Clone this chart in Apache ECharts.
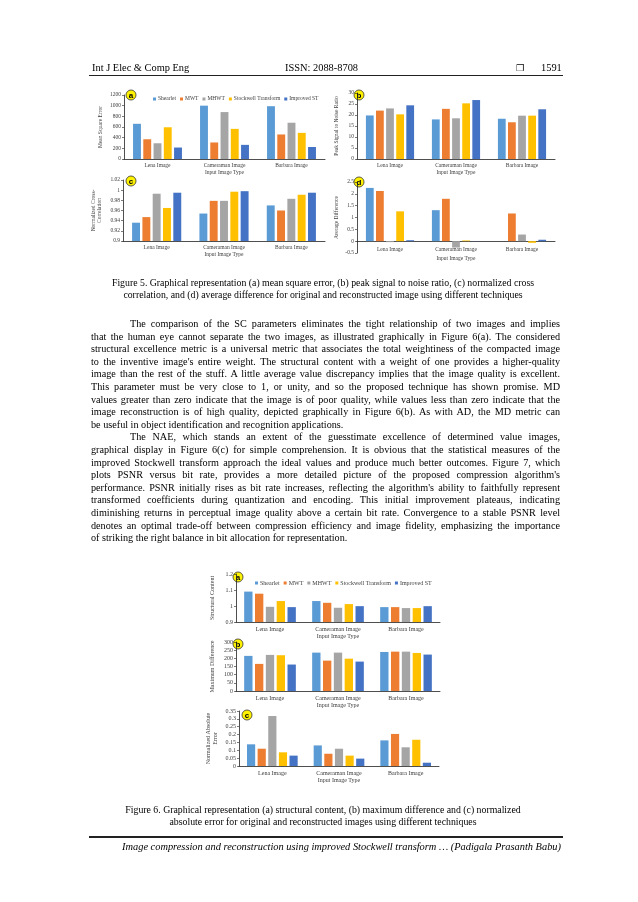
<!DOCTYPE html>
<html lang="en">
<head>
<meta charset="utf-8">
<title>Figure 5 and Figure 6</title>
<script src="https://cdn.jsdelivr.net/npm/echarts@6/dist/echarts.min.js"></script>
<style>
body{margin:0;background:#fff;}
#page{position:relative;width:638px;height:902px;overflow:hidden;font-family:'Liberation Serif','Times New Roman',serif;color:#000;}
#chart{position:absolute;left:0;top:0;width:638px;height:902px;}
.t{position:absolute;white-space:nowrap;line-height:12px;font-size:10.4px;}
.cap{position:absolute;left:60px;width:526px;text-align:center;white-space:nowrap;line-height:12px;font-size:9.8px;}
.jl{position:absolute;white-space:nowrap;line-height:12px;font-size:10.2px;}
.rule{position:absolute;left:89px;width:474px;background:#222;}
</style>
</head>
<body>
<div id="page">
  <div id="chart"></div>

  <div class="t" style="left:92px;top:62px;">Int J Elec &amp; Comp Eng</div>
  <div class="t" style="left:285px;top:62px;">ISSN: 2088-8708</div>
  <div class="t" style="left:516px;top:62px;font-family:'DejaVu Sans';font-size:9px;">&#10066;</div>
  <div class="t" style="left:541px;top:62px;">1591</div>
  <div class="rule" style="top:75px;height:1px;"></div>

  <div class="cap" style="top:277px;">Figure 5. Graphical representation (a) mean square error, (b) peak signal to noise ratio, (c) normalized cross</div>
  <div class="cap" style="top:289px;">correlation, and (d) average difference for original and reconstructed image using different techniques</div>

  <div id="body"></div>

  <div class="cap" style="top:804px;">Figure 6. Graphical representation (a) structural content, (b) maximum difference and (c) normalized</div>
  <div class="cap" style="top:816px;">absolute error for original and reconstructed images using different techniques</div>

  <div class="rule" style="top:836px;height:2px;"></div>
  <div class="t" style="right:77px;top:841px;font-style:italic;">Image compression and reconstruction using improved Stockwell transform &#8230; (Padigala Prasanth Babu)</div>
</div>

<script>
// categories and series
var categories = ['Lena Image', 'Cameraman Image', 'Barbara Image'];
var methods = ['Shearlet', 'MWT', 'MHWT', 'Stockwell Transform', 'Improved ST'];
var colors = ['#5B9BD5', '#ED7D31', '#A5A5A5', '#FFC000', '#4472C4'];

// one row per method, one value per image
var mse = [[660, 1000, 990], [370, 310, 460], [295, 880, 680], [595, 565, 490], [215, 265, 225]];
var psnr = [[19.8, 18.0, 18.3], [22.0, 22.8, 16.7], [23.0, 18.5, 19.7], [20.3, 25.3, 19.7], [24.4, 26.8, 22.6]];
var ncc = [[0.936, 0.954, 0.970], [0.947, 0.979, 0.960], [0.993, 0.979, 0.983], [0.965, 0.997, 0.991], [0.995, 0.998, 0.995]];
var ad = [[2.25, 1.31, 0], [2.12, 1.79, 1.17], [-0.04, -0.27, 0.28], [1.26, 0.03, -0.07], [0.04, 0.005, 0.06]];
var sc = [[1.090, 1.031, 0.993], [1.077, 1.020, 0.993], [0.995, 0.989, 0.987], [1.031, 1.012, 0.987], [0.993, 0.999, 0.999]];
var md = [[215, 235, 239], [166, 186, 241], [221, 235, 241], [219, 198, 233], [162, 180, 223]];
var nae = [[0.138, 0.131, 0.163], [0.110, 0.078, 0.204], [0.318, 0.110, 0.119], [0.087, 0.066, 0.167], [0.066, 0.047, 0.021]];

// tick labels
var mseTicks = [0, 200, 400, 600, 800, 1000, 1200];
var psnrTicks = [0, 5, 10, 15, 20, 25, 30];
var nccTicks = [0.9, 0.92, 0.94, 0.96, 0.98, 1, 1.02];
var adTicks = [-0.5, 0, 0.5, 1, 1.5, 2, 2.5];
var scTicks = [0.9, 1, 1.1, 1.2];
var mdTicks = [0, 50, 100, 150, 200, 250, 300];
var naeTicks = [0, 0.05, 0.1, 0.15, 0.2, 0.25, 0.3, 0.35];

var para1 = [
  'The comparison of the SC parameters eliminates the tight relationship of two images and implies',
  'that the human eye cannot separate the two images, as illustrated graphically in Figure 6(a). The considered',
  'structural excellence metric is a universal metric that associates the total weightiness of the compacted image',
  'to the inventive image\'s entire weight. The structural content with a weight of one provides a higher-quality',
  'image than the rest of the stuff. A little average value discrepancy implies that the image quality is excellent.',
  'This parameter must be very close to 1, or unity, and so the proposed technique has shown promise. MD',
  'values greater than zero indicate that the image is of poor quality, while values less than zero indicate that the',
  'image reconstruction is of high quality, depicted graphically in Figure 6(b). As with AD, the MD metric can',
  'be useful in object identification and recognition applications.'
];
var para2 = [
  'The NAE, which stands an extent of the guesstimate excellence of determined value images,',
  'graphical display in Figure 6(c) for simple comprehension. It is obvious that the statistical measures of the',
  'improved Stockwell transform approach the ideal values and produce much better outcomes. Figure 7, which',
  'plots PSNR versus bit rate, provides a more detailed picture of the proposed compression algorithm\'s',
  'performance. PSNR initially rises as bit rate increases, reflecting the algorithm\'s ability to faithfully represent',
  'transformed coefficients during quantization and encoding. This initial improvement plateaus, indicating',
  'diminishing returns in perceptual image quality above a certain bit rate. Convergence to a stable PSNR level',
  'denotes an optimal trade-off between compression efficiency and image fidelity, emphasizing the importance',
  'of striking the right balance in bit allocation for representation.'
];

// body text, each line justified to the column
(function(){
  var body = document.getElementById('body');
  var lines = [];
  [para1, para2].forEach(function(p){
    p.forEach(function(s, i){ lines.push({text: s, first: i === 0, last: i === p.length - 1}); });
  });
  var y = 318, step = 12.6;
  lines.forEach(function(l){
    var d = document.createElement('div');
    d.className = 'jl';
    var left = l.first ? 130 : 91;
    d.style.left = left + 'px';
    d.style.top = y + 'px';
    var sp = document.createElement('span');
    sp.textContent = l.text;
    d.appendChild(sp);
    body.appendChild(d);
    if (!l.last) {
      var w = sp.getBoundingClientRect().width;
      var n = (l.text.match(/ /g) || []).length;
      d.style.wordSpacing = ((560 - left - w) / n) + 'px';
    }
    y += step;
  });
})();

var chart = echarts.init(document.getElementById('chart'));
var font = 'Liberation Serif';
var textColor = '#404040';

var panels = [
  {data: mse, ticks: mseTicks, name: 'Mean Square Error', tag: 'a', grid: {left: 124, top: 95, width: 201, height: 64}, nameGap: 20, tagAt: [131, 95], fs: 5.5},
  {data: psnr, ticks: psnrTicks, name: 'Peak Signal to Noise Ratio', tag: 'b', grid: {left: 357, top: 93, width: 198, height: 66}, nameGap: 17, tagAt: [359, 95], fs: 5.5},
  {data: ncc, ticks: nccTicks, name: 'Normalized Cross-\nCorrelation', tag: 'c', grid: {left: 123, top: 180, width: 202, height: 61}, nameGap: 20, tagAt: [131, 181], fs: 5.5},
  {data: ad, ticks: adTicks, name: 'Average Difference', tag: 'd', grid: {left: 357, top: 182, width: 198, height: 71}, nameGap: 17, tagAt: [359, 182], fs: 5.5, labelMargin: 5, xNameGap: 14},
  {data: sc, ticks: scTicks, name: 'Structural Content', tag: 'a', grid: {left: 236, top: 574, width: 204, height: 48}, nameGap: 20, tagAt: [238, 577], fs: 6},
  {data: md, ticks: mdTicks, name: 'Maximum Difference', tag: 'b', grid: {left: 236, top: 642, width: 204, height: 49}, nameGap: 20, tagAt: [238, 644], fs: 6},
  {data: nae, ticks: naeTicks, name: 'Normalized Absolute\nError', tag: 'c', grid: {left: 239, top: 711, width: 200, height: 55}, nameGap: 20, tagAt: [247, 715], fs: 6}
];

var grids = [], xAxes = [], yAxes = [], series = [], graphics = [];
panels.forEach(function(p, k){
  grids.push(p.grid);
  var lo = p.ticks[0], hi = p.ticks[p.ticks.length - 1];
  // category axis sits on the zero line when the value axis goes below zero
  var zeroOffset = lo < 0 ? -p.grid.height * (0 - lo) / (hi - lo) : 0;
  xAxes.push({
    type: 'category', gridIndex: k, data: categories,
    offset: zeroOffset,
    axisLine: {onZero: false, lineStyle: {color: '#222', width: 0.8}},
    axisTick: {show: false},
    axisLabel: {fontFamily: font, fontSize: p.fs, color: textColor, margin: p.labelMargin || 4},
    name: 'Input Image Type', nameLocation: 'middle', nameGap: p.xNameGap || 11,
    nameTextStyle: {fontFamily: font, fontSize: p.fs, color: textColor}
  });
  var step = +(p.ticks[1] - p.ticks[0]).toFixed(6);
  yAxes.push({
    type: 'value', gridIndex: k,
    min: lo, max: hi, interval: step,
    axisLine: {show: true, lineStyle: {color: '#222', width: 0.8}},
    axisTick: {show: true, length: 2, lineStyle: {color: '#222', width: 0.6}},
    splitLine: {show: false},
    axisLabel: {fontFamily: font, fontSize: p.fs, color: textColor, margin: 3,
      formatter: function(v){ return String(+v.toFixed(4)); }},
    name: p.name, nameLocation: 'middle', nameRotate: 90, nameGap: p.nameGap,
    nameTextStyle: {fontFamily: font, fontSize: p.fs, color: textColor, lineHeight: p.fs + 1}
  });
  p.data.forEach(function(vals, m){
    series.push({
      type: 'bar', name: methods[m], xAxisIndex: k, yAxisIndex: k,
      data: vals, barGap: '30%', barCategoryGap: k < 4 ? '27%' : '24%',
      itemStyle: {color: colors[m]}, silent: true
    });
  });
  graphics.push({
    type: 'group', x: p.tagAt[0], y: p.tagAt[1], z: 100,
    children: [
      {type: 'circle', shape: {cx: 0, cy: 0, r: 5}, style: {fill: '#FFF200', stroke: '#333', lineWidth: 0.8}},
      {type: 'text', style: {text: p.tag, x: 0, y: 0.5, align: 'center', verticalAlign: 'middle',
        font: 'bold 8px "Liberation Sans", Arial, sans-serif', fill: '#000'}}
    ]
  });
});

var legendBase = {
  data: methods, icon: 'rect', itemWidth: 3, itemHeight: 3, itemGap: 4, padding: 0,
  selectedMode: false
};
var option = {
  animation: false,
  grid: grids,
  xAxis: xAxes,
  yAxis: yAxes,
  series: series,
  legend: [
    Object.assign({}, legendBase, {left: 153, top: 96, textStyle: {fontFamily: font, fontSize: 5.5, color: textColor, padding: [0, 0, 0, -3]}}),
    Object.assign({}, legendBase, {left: 255, top: 580, textStyle: {fontFamily: font, fontSize: 6, color: textColor, padding: [0, 0, 0, -3]}})
  ],
  graphic: graphics
};
chart.setOption(option);
</script>
</body>
</html>
